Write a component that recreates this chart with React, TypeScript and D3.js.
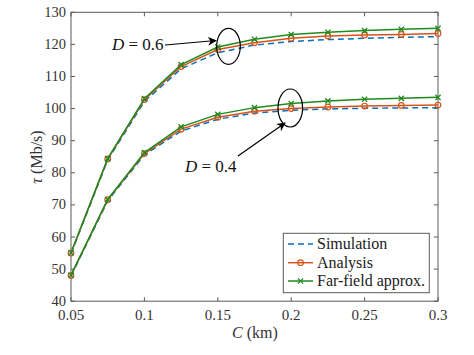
import React from "react";
import * as d3 from "d3";

const C_VALUES = [0.05, 0.075, 0.1, 0.125, 0.15, 0.175, 0.2, 0.225, 0.25, 0.275, 0.3];

const SIM_06 = [54.8, 84.0, 102.2, 112.4, 117.4, 119.8, 120.9, 121.5, 121.9, 122.2, 122.4];
const ANA_06 = [55.0, 84.3, 102.8, 113.1, 118.4, 120.5, 121.9, 122.6, 122.9, 123.1, 123.4];
const FAR_06 = [55.1, 84.4, 103.1, 113.7, 119.2, 121.6, 123.1, 123.8, 124.3, 124.7, 125.0];

const SIM_04 = [47.8, 71.3, 85.6, 93.0, 96.7, 98.6, 99.5, 99.9, 100.1, 100.2, 100.3];
const ANA_04 = [48.0, 71.6, 86.0, 93.6, 97.3, 99.2, 100.0, 100.5, 100.8, 101.0, 101.1];
const FAR_04 = [48.1, 71.7, 86.3, 94.3, 98.2, 100.3, 101.6, 102.4, 102.9, 103.2, 103.5];

const X_TICKS = [0.05, 0.1, 0.15, 0.2, 0.25, 0.3];
const Y_TICKS = [40, 50, 60, 70, 80, 90, 100, 110, 120, 130];
const LEGEND = ["Simulation", "Analysis", "Far-field approx."];

const BLUE = "#0072BD";
const ORANGE = "#D95319";
const GREEN = "#1f8a1f";
const AXIS = "#5a5a5a";
const TEXT = "#333333";
const FONT = "'Liberation Serif', 'DejaVu Serif', serif";

export default function App() {
  const W = 474, H = 355;
  const left = 71, right = 438, top = 12.3, bottom = 301.2;
  const x = d3.scaleLinear().domain([0.05, 0.3]).range([left, right]);
  const y = d3.scaleLinear().domain([40, 130]).range([bottom, top]);
  const line = d3.line<number>().x((_, i) => x(C_VALUES[i])).y((v) => y(v));

  const series = [
    { data: SIM_06, color: BLUE, dash: "6,4", marker: "none" },
    { data: SIM_04, color: BLUE, dash: "6,4", marker: "none" },
    { data: ANA_06, color: ORANGE, dash: null, marker: "o" },
    { data: ANA_04, color: ORANGE, dash: null, marker: "o" },
    { data: FAR_06, color: GREEN, dash: null, marker: "x" },
    { data: FAR_04, color: GREEN, dash: null, marker: "x" },
  ];

  const drawMarker = (type: string, cx: number, cy: number, color: string, key: string) => {
    if (type === "o")
      return <circle key={key} cx={cx} cy={cy} r={2.8} fill="none" stroke={color} strokeWidth={1.2} />;
    if (type === "x") {
      const s = 2.6;
      return (
        <path key={key} d={`M${cx - s},${cy - s}L${cx + s},${cy + s}M${cx - s},${cy + s}L${cx + s},${cy - s}`}
          stroke={color} strokeWidth={1.3} fill="none" />
      );
    }
    return null;
  };

  const tickLen = 4;
  const legendX = 283.3, legendY = 233.3, legendW = 146, legendH = 59.4;
  const legendRows = [244, 262.7, 281];

  return (
    <svg width={W} height={H} style={{ position: "absolute", left: 0, top: 0, background: "#fff" }}
      fontFamily={FONT}>
      <defs>
        <marker id="arrow" viewBox="0 0 10 10" refX="9" refY="5" markerWidth="9" markerHeight="9"
          markerUnits="userSpaceOnUse" orient="auto">
          <path d="M0,0L10,5L0,10L3,5Z" fill="#000" />
        </marker>
      </defs>
      <rect x={0} y={0} width={W} height={H} fill="#fff" />
      <rect x={left} y={top} width={right - left} height={bottom - top} fill="none" stroke={AXIS} strokeWidth={1} />
      {X_TICKS.map((t) => (
        <g key={"xt" + t}>
          <line x1={x(t)} x2={x(t)} y1={bottom} y2={bottom - tickLen} stroke={AXIS} />
          <line x1={x(t)} x2={x(t)} y1={top} y2={top + tickLen} stroke={AXIS} />
          <text x={x(t)} y={320} textAnchor="middle" fontSize={15} fill={TEXT}>{String(t)}</text>
        </g>
      ))}
      {Y_TICKS.map((t) => (
        <g key={"yt" + t}>
          <line x1={left} x2={left + tickLen} y1={y(t)} y2={y(t)} stroke={AXIS} />
          <line x1={right} x2={right - tickLen} y1={y(t)} y2={y(t)} stroke={AXIS} />
          <text x={66} y={y(t) + 4.5} textAnchor="end" fontSize={14.5} fill={TEXT}>{t}</text>
        </g>
      ))}
      <text x={255} y={338} textAnchor="middle" fontSize={16} fill={TEXT}>
        <tspan fontStyle="italic">C</tspan> (km)
      </text>
      <text transform="translate(42,157) rotate(-90)" textAnchor="middle" fontSize={16} fill={TEXT}>
        <tspan fontStyle="italic">τ</tspan> (Mb/s)
      </text>

      {series.map((s, si) => (
        <g key={"s" + si}>
          <path d={line(s.data) || ""} fill="none" stroke={s.color} strokeWidth={1.5}
            strokeDasharray={s.dash || undefined} />
          {s.data.map((v, i) => drawMarker(s.marker, x(C_VALUES[i]), y(v), s.color, `m${si}-${i}`))}
        </g>
      ))}

      <ellipse cx={228.5} cy={46.3} rx={11.8} ry={18} fill="none" stroke="#000" strokeWidth={1.2} />
      <ellipse cx={290.3} cy={108} rx={12.3} ry={19} fill="none" stroke="#000" strokeWidth={1.2} />
      <line x1={165} x2={216} y1={45} y2={40.5} stroke="#000" strokeWidth={1.2} markerEnd="url(#arrow)" />
      <line x1={238} x2={285} y1={156} y2={123} stroke="#000" strokeWidth={1.2} markerEnd="url(#arrow)" />
      <text x={112} y={50} fontSize={17} fill="#111">
        <tspan fontStyle="italic">D</tspan> = 0.6
      </text>
      <text x={185} y={172} fontSize={17} fill="#111">
        <tspan fontStyle="italic">D</tspan> = 0.4
      </text>

      <rect x={legendX} y={legendY} width={legendW} height={legendH} fill="#fff" stroke={AXIS} strokeWidth={1} />
      {LEGEND.map((label, i) => {
        const s = series[i * 2];
        const ly = legendRows[i];
        return (
          <g key={"lg" + i}>
            <line x1={288} x2={313} y1={ly} y2={ly} stroke={s.color} strokeWidth={1.5}
              strokeDasharray={s.dash || undefined} />
            {drawMarker(s.marker, 300.5, ly, s.color, "lm" + i)}
            <text x={317} y={ly + 5} fontSize={16} fill="#222">{label}</text>
          </g>
        );
      })}
    </svg>
  );
}
